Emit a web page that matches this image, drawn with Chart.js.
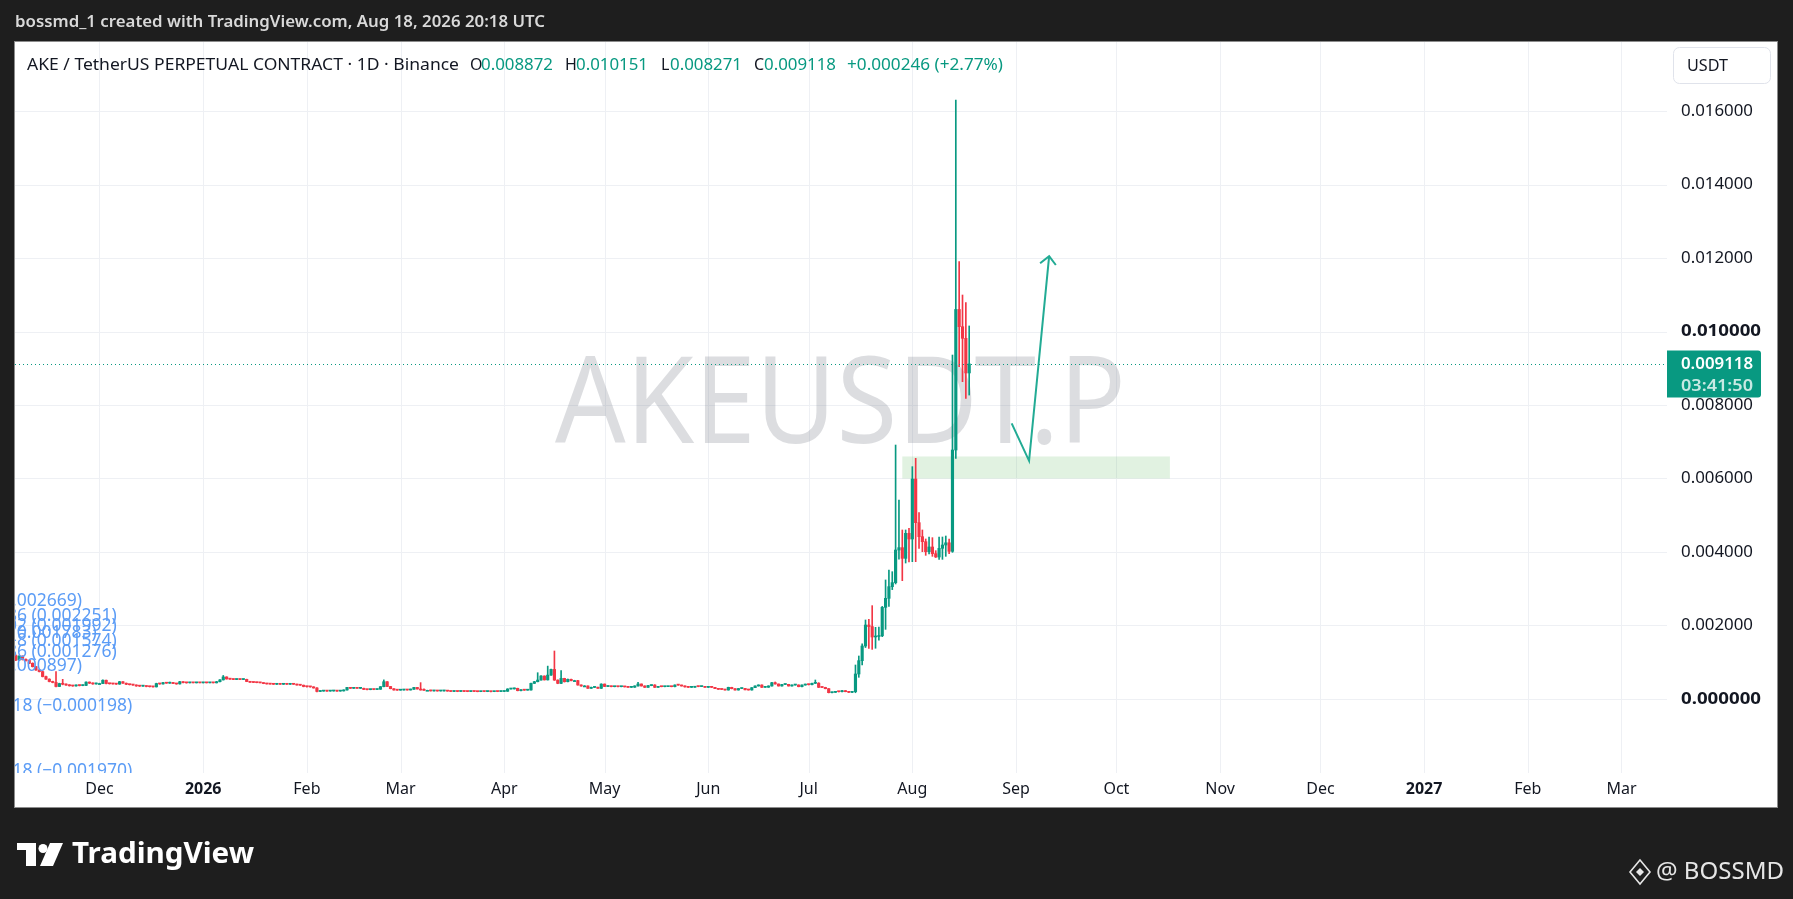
<!DOCTYPE html>
<html>
<head>
<meta charset="utf-8">
<script src="https://cdn.jsdelivr.net/npm/chart.js@4.4.1/dist/chart.umd.min.js"></script>
<style>
  html, body { margin: 0; padding: 0; background: #1e1e1e; overflow: hidden; }
  canvas { display: block; }
</style>
</head>
<body>
<canvas id="chart" width="1793" height="899"></canvas>
<script>
// 일봉 데이터 (단위: 1e-6 USDT), 첫 캔들 = 2025-11-06, 일자 인덱스는 2025-12-01 기준
const FIRST_DAY = -25;
const firstOpen = 1180;
const closes = [
  // Nov
  1060,1165,1075,1050,970,880,790,745,610,540,475,450,340,420,400,380,360,355,375,365,370,460,430,410,420,
  // Dec
  420,510,420,415,410,405,470,430,400,390,380,355,350,355,340,335,330,420,410,445,430,450,420,410,470,445,440,445,440,445,440,
  // Jan
  445,440,445,440,470,520,600,545,540,530,535,530,535,475,455,450,445,440,420,410,405,400,405,400,410,400,410,400,380,375,340,
  // Feb
  335,330,300,205,215,220,215,218,220,215,220,245,315,290,300,290,292,260,255,262,258,265,335,470,340,280,245,240,
  // Mar
  245,250,245,265,315,272,245,236,236,220,222,218,220,222,215,205,207,205,210,205,203,207,205,200,205,203,205,200,205,203,205,
  // Apr
  210,272,275,290,227,245,240,245,425,470,515,625,520,650,805,515,425,560,470,535,500,500,380,355,355,290,315,320,290,405,
  // May
  340,350,335,340,335,340,330,317,320,355,408,355,317,365,380,317,340,335,336,338,335,380,378,354,330,317,320,340,338,342,317,
  // Jun
  320,317,281,263,260,245,317,281,245,285,290,250,245,308,354,381,317,320,354,444,408,354,395,399,354,380,382,336,380,399,
  // Jul
  390,426,430,317,315,281,172,181,200,198,227,200,181,200,680,1043,1442,2013,1970,1687,1700,1720,2494,2739,3057,3166,4054,4118,3827,4508,4354,
  // Aug
  5986,4798,4417,4281,4009,4136,3955,3864,4100,4190,4250,4018,6775,10600,10131,9814,8872,9118
];
const highs = [
  1200,1185,1175,1090,1060,985,890,800,760,620,550,485,745,430,535,410,390,370,385,380,380,470,465,440,430,
  430,520,515,425,420,415,480,475,435,400,395,385,360,365,360,345,340,430,425,455,450,460,455,425,480,475,450,455,450,455,450,
  455,450,455,450,480,530,640,605,555,545,545,540,545,540,480,460,455,450,445,425,415,410,415,410,420,415,420,415,405,385,380,
  345,340,335,310,225,228,225,225,228,225,228,250,320,318,305,300,298,295,265,268,265,270,340,520,475,345,285,250,
  250,255,255,270,320,318,445,275,240,240,228,225,225,228,225,215,212,210,215,212,210,212,210,208,210,208,210,208,210,208,212,
  215,280,285,300,295,255,250,250,435,480,715,640,630,895,815,1306,520,770,565,545,540,510,505,385,365,360,325,330,325,415,
  410,360,352,345,345,345,345,335,325,360,453,410,360,370,385,390,345,345,342,342,342,385,385,380,358,335,325,345,345,348,345,
  325,325,320,285,270,265,322,320,285,290,295,292,255,312,360,386,385,325,360,450,463,410,400,405,400,385,388,385,385,405,
  405,432,517,444,325,320,285,190,205,210,235,230,205,205,925,1170,1500,2150,2168,2540,1950,1960,2520,3239,3510,3464,6911,5415,4599,4599,4644,
  6322,6549,5070,4599,4354,4408,4390,4036,4408,4408,4435,4354,9360,16300,11900,10993,10784,10151
];
const lows = [
  1040,1050,1060,1030,960,870,780,735,600,530,465,440,330,335,385,370,350,345,350,355,360,365,420,400,405,
  410,415,410,405,400,395,400,425,390,380,370,345,340,345,330,325,320,325,400,405,425,425,415,400,405,440,430,435,435,435,435,
  435,435,435,435,435,465,515,540,530,525,525,525,525,470,450,445,440,435,415,405,400,395,395,395,395,395,395,395,375,370,330,
  325,320,295,195,200,210,208,210,212,208,210,215,240,285,285,285,285,255,250,250,252,255,260,330,335,275,240,235,
  238,242,240,242,262,268,240,230,230,215,215,212,214,215,210,200,200,198,202,200,198,200,198,195,198,198,198,195,198,198,200,
  200,205,265,270,220,222,235,238,240,420,465,510,515,515,640,505,415,420,460,465,490,490,375,345,345,285,285,310,285,285,
  335,335,330,330,330,330,325,312,312,315,350,350,312,312,360,312,312,330,330,332,330,330,372,350,325,312,312,315,332,335,312,
  312,312,278,258,255,240,240,275,240,240,282,245,240,240,305,350,312,312,315,350,404,350,350,392,350,350,375,330,330,375,
  380,385,420,310,305,275,165,165,175,190,195,195,175,175,170,590,925,1400,1379,1350,1380,1600,1696,1895,2517,2976,3130,3808,3220,3700,3727,
  3737,3737,4100,4009,3909,3945,3882,3850,3800,3800,3882,3955,3990,6549,9043,8635,8181,8271
];
const UNIT = 1e-6;

// 축 눈금
const monthTicks = [0, 31, 62, 90, 121, 151, 182, 212, 243, 274, 304, 335, 365, 396, 427, 455];
const monthLabels = ['Dec', '2026', 'Feb', 'Mar', 'Apr', 'May', 'Jun', 'Jul', 'Aug', 'Sep', 'Oct', 'Nov', 'Dec', '2027', 'Feb', 'Mar'];
const priceTicks = [0, 0.002, 0.004, 0.006, 0.008, 0.010, 0.012, 0.014, 0.016];
const priceTickLabels = ['0.000000', '0.002000', '0.004000', '0.006000', '0.008000', '0.010000', '0.012000', '0.014000', '0.016000'];

// 현재가 / 드로잉
const lastPrice = 0.009118;
const zoneDays = [240, 320];
const zonePrices = [0.0060, 0.0066];
const arrowPath = [[272.7, 0.0075], [277.9, 0.00648], [283.9, 0.01205]];
const arrowHead = [[281.2, 0.011856], [283.9, 0.01205], [285.9, 0.01181]];

// 피보나치 레벨 (왼쪽 가장자리에서 잘려 보임)
const fibPrices = [0.002669, 0.002251, 0.001992, 0.001783, 0.001574, 0.001276, 0.000897, -0.000198, -0.001970];
const fibTexts = ['1 (0.002669)', '0.786 (0.002251)', '0.702 (0.001992)', '0.5 (0.001783)', '0.618 (0.001574)',
  '0.786 (0.001276)', '1 (0.000897)', '-0.618 (\u22120.000198)', '-1.618 (\u22120.001970)'];

const UP = '#089981';
const DOWN = '#f23645';
const FONT = "'Noto Sans', 'Open Sans', sans-serif";

// 캔들 데이터 구성 (시가 = 전일 종가)
const bodies = [], wicks = [], candleColors = [];
let prevClose = firstOpen;
closes.forEach((c, i) => {
  const d = FIRST_DAY + i;
  const o = prevClose;
  bodies.push({ x: d, y: [o * UNIT, c * UNIT] });
  wicks.push({ x: d, y: [lows[i] * UNIT, highs[i] * UNIT] });
  candleColors.push(c >= o ? UP : DOWN);
  prevClose = c;
});

function fitText(ctx, text, x, y, width, font, color, baseline) {
  ctx.font = font;
  const w = ctx.measureText(text).width;
  ctx.save();
  ctx.translate(x, y);
  ctx.scale(width / w, 1);
  ctx.fillStyle = color;
  ctx.textAlign = 'left';
  ctx.textBaseline = baseline || 'middle';
  ctx.fillText(text, 0, 0);
  ctx.restore();
}

const framePlugin = {
  id: 'frame',
  beforeDraw(chart) {
    const ctx = chart.ctx;
    ctx.save();
    ctx.fillStyle = '#1e1e1e';
    ctx.fillRect(0, 0, chart.width, chart.height);
    ctx.fillStyle = '#ffffff';
    ctx.fillRect(15, 42, 1762, 765);
    ctx.strokeStyle = '#8c8c8c';
    ctx.lineWidth = 1;
    ctx.strokeRect(14.5, 41.5, 1763, 766);

    // 상단 캡션
    fitText(ctx, 'bossmd_1 created with TradingView.com, Aug 18, 2026 20:18 UTC', 15, 22, 530, '600 16px ' + FONT, '#d9d9d9');

    // 하단 로고
    ctx.fillStyle = '#ffffff';
    ctx.fillRect(17, 843, 19, 7);
    ctx.fillRect(26, 843, 10, 23);
    ctx.beginPath(); ctx.arc(43, 848.5, 4.5, 0, Math.PI * 2); ctx.fill();
    ctx.beginPath();
    ctx.moveTo(50, 843); ctx.lineTo(63, 843); ctx.lineTo(53, 866); ctx.lineTo(40, 866);
    ctx.closePath(); ctx.fill();
    fitText(ctx, 'TradingView', 72, 855, 182, 'bold 28px ' + FONT, '#ffffff');

    // 오른쪽 아래 서명
    ctx.strokeStyle = '#e6e6e6';
    ctx.fillStyle = '#e6e6e6';
    ctx.lineWidth = 1.6;
    const cx = 1640, cy = 872;
    ctx.beginPath();
    ctx.moveTo(cx, cy - 12); ctx.lineTo(cx + 10, cy); ctx.lineTo(cx, cy + 12); ctx.lineTo(cx - 10, cy);
    ctx.closePath(); ctx.stroke();
    ctx.beginPath();
    ctx.moveTo(cx, cy - 4); ctx.lineTo(cx + 4, cy); ctx.lineTo(cx, cy + 4); ctx.lineTo(cx - 4, cy);
    ctx.closePath(); ctx.fill();
    fitText(ctx, '@ BOSSMD', 1656, 872, 128, '24px ' + FONT, '#e6e6e6');
    ctx.restore();
  },
  beforeDatasetsDraw(chart) {
    const ctx = chart.ctx, xs = chart.scales.x, ys = chart.scales.y, a = chart.chartArea;
    ctx.save();
    // 격자
    ctx.strokeStyle = '#eef0f4';
    ctx.lineWidth = 1;
    priceTicks.forEach(p => {
      const y = Math.round(ys.getPixelForValue(p)) + 0.5;
      ctx.beginPath(); ctx.moveTo(a.left, y); ctx.lineTo(a.right, y); ctx.stroke();
    });
    monthTicks.forEach(d => {
      const x = Math.round(xs.getPixelForValue(d)) + 0.5;
      ctx.beginPath(); ctx.moveTo(x, a.top); ctx.lineTo(x, a.bottom); ctx.stroke();
    });
    // 워터마크 (기준선 443px)
    fitText(ctx, 'AKEUSDT.P', 555, 443, 571, '120px ' + FONT, 'rgba(120,123,134,0.26)', 'alphabetic');
    // 지지 구간 박스
    const zx1 = xs.getPixelForValue(zoneDays[0]), zx2 = xs.getPixelForValue(zoneDays[1]);
    const zy1 = ys.getPixelForValue(zonePrices[1]), zy2 = ys.getPixelForValue(zonePrices[0]);
    ctx.fillStyle = 'rgba(76,175,80,0.17)';
    ctx.fillRect(zx1, zy1, zx2 - zx1, zy2 - zy1);
    ctx.restore();
  },
  afterDatasetsDraw(chart) {
    const ctx = chart.ctx, xs = chart.scales.x, ys = chart.scales.y, a = chart.chartArea;
    ctx.save();
    // 현재가 점선
    const py = Math.round(ys.getPixelForValue(lastPrice)) + 0.5;
    ctx.strokeStyle = UP;
    ctx.lineWidth = 1;
    ctx.setLineDash([1, 3]);
    ctx.beginPath(); ctx.moveTo(a.left, py); ctx.lineTo(a.right, py); ctx.stroke();
    ctx.setLineDash([]);

    // 피보나치 라벨
    ctx.save();
    ctx.beginPath(); ctx.rect(a.left, a.top, a.right - a.left, a.bottom - a.top); ctx.clip();
    ctx.font = '17.5px ' + FONT;
    ctx.fillStyle = '#5b9cf6';
    ctx.textBaseline = 'middle';
    ctx.textAlign = 'left';
    const fibStart = 82 - ctx.measureText(fibTexts[0]).width;
    fibPrices.forEach((p, i) => ctx.fillText(fibTexts[i], fibStart, ys.getPixelForValue(p)));
    ctx.restore();

    // 가격 축 라벨
    priceTicks.forEach((p, i) => {
      const strong = (p === 0 || p === 0.010);
      fitText(ctx, priceTickLabels[i], 1681, ys.getPixelForValue(p), strong ? 80 : 72,
        (strong ? 'bold ' : '') + '16px ' + FONT, '#131722');
    });
    // 시간 축 라벨
    ctx.textAlign = 'center';
    ctx.textBaseline = 'middle';
    ctx.fillStyle = '#131722';
    monthTicks.forEach((d, i) => {
      const strong = /^\d{4}$/.test(monthLabels[i]);
      ctx.font = (strong ? 'bold ' : '') + '16px ' + FONT;
      ctx.fillText(monthLabels[i], xs.getPixelForValue(d), 789);
    });

    // 현재가 박스
    ctx.fillStyle = UP;
    ctx.beginPath();
    ctx.roundRect(1667, py - 14, 94, 47, [0, 3, 3, 0]);
    ctx.fill();
    fitText(ctx, '0.009118', 1681, py, 72, '600 16px ' + FONT, '#ffffff');
    fitText(ctx, '03:41:50', 1681, py + 22, 72, '600 16px ' + FONT, 'rgba(255,255,255,0.78)');

    // 통화 버튼
    ctx.strokeStyle = '#e0e3eb';
    ctx.lineWidth = 1;
    ctx.beginPath();
    ctx.roundRect(1673.5, 47.5, 97, 36, 6);
    ctx.stroke();
    fitText(ctx, 'USDT', 1687, 66, 41, '16px ' + FONT, '#131722');

    // 범례
    const ly = 65;
    fitText(ctx, 'AKE / TetherUS PERPETUAL CONTRACT \u00b7 1D \u00b7 Binance', 27, ly, 432, '16px ' + FONT, '#131722');
    const ohlc = [['O', 470, '0.008872', 481], ['H', 565, '0.010151', 576], ['L', 661, '0.008271', 670], ['C', 754, '0.009118', 764]];
    ohlc.forEach(([k, kx, v, vx]) => {
      ctx.font = '16px ' + FONT;
      ctx.fillStyle = '#131722';
      ctx.textAlign = 'left';
      ctx.fillText(k, kx, ly);
      fitText(ctx, v, vx, ly, 72, '16px ' + FONT, UP);
    });
    fitText(ctx, '+0.000246 (+2.77%)', 847, ly, 156, '16px ' + FONT, UP);
    ctx.restore();
  }
};

const toPts = arr => arr.map(([x, y]) => ({ x, y }));

new Chart(document.getElementById('chart'), {
  type: 'bar',
  data: {
    datasets: [
      {
        type: 'line', data: toPts(arrowPath), borderColor: '#22ab94', borderWidth: 2,
        pointRadius: 0, tension: 0, order: 0
      },
      {
        type: 'line', data: toPts(arrowHead), borderColor: '#22ab94', borderWidth: 2,
        pointRadius: 0, tension: 0, order: 0
      },
      {
        label: 'wick', data: wicks, backgroundColor: candleColors, barThickness: 1,
        grouped: false, borderWidth: 0, order: 2
      },
      {
        label: 'body', data: bodies, backgroundColor: candleColors, barThickness: 2.5,
        minBarLength: 1, grouped: false, borderWidth: 0, order: 1
      }
    ]
  },
  options: {
    responsive: false,
    animation: false,
    events: [],
    layout: { padding: { left: 15, top: 42, right: 126, bottom: 126 } },
    plugins: { legend: { display: false }, tooltip: { enabled: false } },
    scales: {
      x: { type: 'linear', min: -25.26, max: 468.61, offset: false, display: false },
      y: { type: 'linear', min: -0.002014, max: 0.017878, display: false }
    }
  },
  plugins: [framePlugin]
});
</script>
</body>
</html>
